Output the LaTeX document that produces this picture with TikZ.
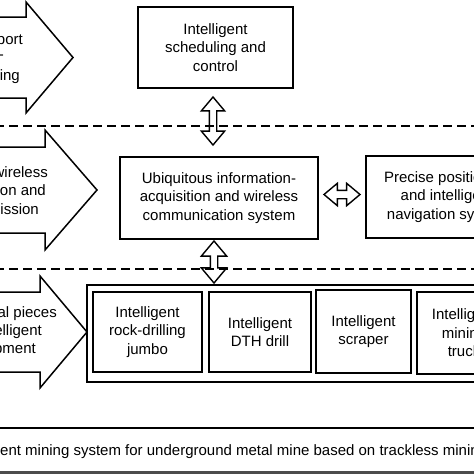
\documentclass[tikz,border=0pt]{standalone}
\usepackage{fontspec}
\setmainfont{Liberation Sans}
\usetikzlibrary{shapes.arrows,calc}
\begin{document}
\begin{tikzpicture}[x=1pt,y=-1pt,
  box/.style={draw,line width=1.5pt,align=center,inner sep=0pt,font=\fontsize{15}{18.5}\selectfont},
  txt/.style={inner sep=0pt,font=\fontsize{15}{18.5}\selectfont},
  blockarrow/.style={draw,line width=1.5pt,fill=white,line join=miter},
  dbl/.style={double arrow,draw,line width=1.4pt,fill=white,inner sep=3pt,double arrow head extend=8pt,double arrow tip angle=80},
  sep/.style={line width=2.8pt,dash pattern=on 9pt off 5pt}
]
\useasboundingbox (0,0) rectangle (474,474);
\fill[white] (0,0) rectangle (474,474);

% boxes
\node[box,minimum width=155pt,minimum height=81pt] (sched) at (215.5,47.5) {Intelligent\\scheduling and\\control};
\node[box,minimum width=198pt,minimum height=82pt] (ubiq) at (219,198) {Ubiquitous information-\\acquisition and wireless\\communication system};
\node[box,minimum width=162pt,minimum height=82pt] (nav) at (447,197) {Precise positioning\\and intelligent\\navigation system};
\node[draw,line width=1.2pt,minimum width=443pt,minimum height=97pt,inner sep=0pt] (cont) at (308.5,333.5) {};
\node[box,minimum width=109pt,minimum height=80pt] (jumbo) at (147.5,332) {Intelligent\\rock-drilling\\jumbo};
\node[box,minimum width=102pt,minimum height=80pt] (dth) at (260,332) {Intelligent\\DTH drill};
\node[box,minimum width=95pt,minimum height=83pt] (scraper) at (363.5,331.5) {Intelligent\\scraper};
\node[box,minimum width=94pt,minimum height=82pt] (truck) at (464,333) {Intelligent\\mining\\truck};

% double arrows
\node[dbl,minimum height=48pt,shape border rotate=90] (a1) at (213,121) {};
\node[dbl,minimum height=42pt,shape border rotate=90,double arrow head extend=9pt] (a2) at (214,262) {};
\node[dbl,minimum height=36pt,inner sep=3.5pt,double arrow head extend=7pt] (a3) at ($(ubiq.east)!0.5!(nav.west)+(0,-3)$) {};

% separators
\coordinate (s1l) at (-5,126); \coordinate (s1r) at (480,126);
\coordinate (s2l) at (-5,269); \coordinate (s2r) at (480,269);
\draw[sep] (s1l) -- (s1r);
\draw[sep] (s2l) -- (s2r);

% left block arrows
\draw[blockarrow] (-10,17) -- (26,17) -- (26,2) -- (73,57.5) -- (26,113) -- (26,98) -- (-10,98) -- cycle;
\draw[blockarrow] (-10,147) -- (45,147) -- (45,130) -- (97,190) -- (45,250) -- (45,233) -- (-10,233) -- cycle;
\draw[blockarrow] (-10,292) -- (40,292) -- (40,276) -- (87,332) -- (40,388) -- (40,372) -- (-10,372) -- cycle;

\node[txt,anchor=east] (l1a) at (23,41) {port};
\node[txt,anchor=east] (l1b) at (4,57) {-};
\node[txt,anchor=east] (l1c) at (20,77) {ing};
\node[txt,anchor=east] (l2a) at (48,172) {wireless};
\node[txt,anchor=east] (l2b) at (46,190) {on and};
\node[txt,anchor=east] (l2c) at (39,209) {ission};
\node[txt,anchor=east] (l3a) at (57,314) {al pieces};
\node[txt,anchor=east] (l3b) at (42,332) {telligent};
\node[txt,anchor=east] (l3c) at (36,350) {pment};

% caption
\coordinate (c1l) at (-5,428); \coordinate (c1r) at (480,428);
\draw[line width=2pt] (c1l) -- (c1r);
\node[txt,anchor=west] (cap) at (0,452) {ent mining system for underground metal mine based on trackless mining};
\fill[black!70] (-5,471) rectangle (480,476);
\end{tikzpicture}
\end{document}
